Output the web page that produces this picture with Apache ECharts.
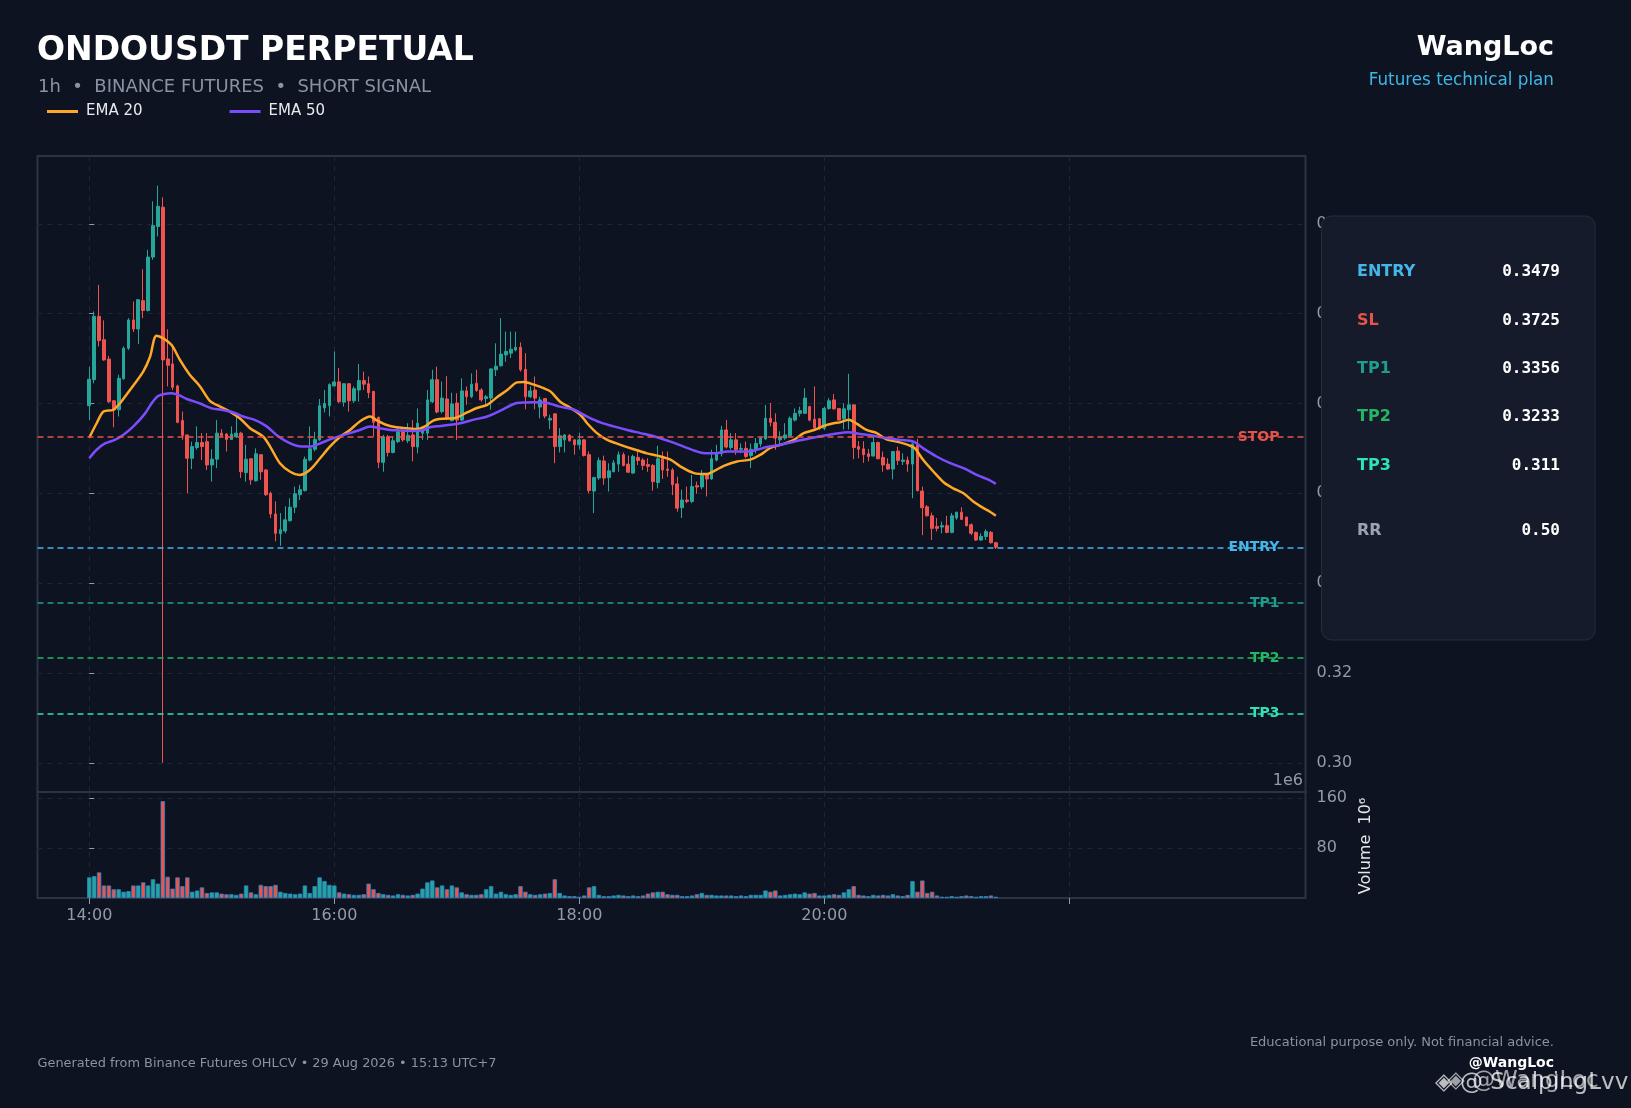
<!DOCTYPE html>
<html>
<head>
<meta charset="utf-8">
<title>ONDOUSDT PERPETUAL</title>
<script src="https://cdn.jsdelivr.net/npm/echarts@6.0.0/dist/echarts.min.js"></script>
<style>
  html, body { margin: 0; padding: 0; background: #0d1320; }
  #chart { width: 1631px; height: 1108px; }
</style>
</head>
<body>
<div id="chart"></div>
<script>
// candle index 0 = 14:00 bar, one step per candle
var opens = [0.3795,0.3853,0.3994,0.3942,0.3899,0.3806,0.3786,0.3855,0.3923,0.3986,
  0.3966,0.4029,0.4007,0.4126,0.4194,0.4237,0.3899,0.3888,0.3839,0.3762,
  0.3730,0.3678,0.3702,0.3713,0.3715,0.3663,0.3676,0.3734,0.3732,0.3720,
  0.3726,0.3734,0.3646,0.3677,0.3628,0.3686,0.3652,0.3600,0.3554,0.3510,
  0.3516,0.3539,0.3569,0.3597,0.3606,0.3674,0.3698,0.3719,0.3790,0.3795,
  0.3839,0.3848,0.3803,0.3844,0.3806,0.3830,0.3851,0.3844,0.3827,0.3769,
  0.3669,0.3726,0.3691,0.3715,0.3737,0.3717,0.3730,0.3703,0.3734,0.3734,
  0.3804,0.3853,0.3782,0.3810,0.3762,0.3801,0.3763,0.3828,0.3815,0.3845,
  0.3830,0.3811,0.3812,0.3875,0.3884,0.3908,0.3912,0.3919,0.3925,0.3876,
  0.3815,0.3830,0.3792,0.3811,0.3763,0.3777,0.3704,0.3719,0.3729,0.3719,
  0.3708,0.3719,0.3686,0.3605,0.3634,0.3672,0.3635,0.3648,0.3665,0.3686,
  0.3665,0.3645,0.3680,0.3674,0.3664,0.3662,0.3624,0.3677,0.3654,0.3652,
  0.3621,0.3568,0.3585,0.3582,0.3617,0.3614,0.3641,0.3632,0.3674,0.3688,
  0.3741,0.3702,0.3719,0.3698,0.3700,0.3684,0.3697,0.3710,0.3721,0.3767,
  0.3758,0.3719,0.3723,0.3728,0.3763,0.3778,0.3778,0.3793,0.3765,0.3766,
  0.3745,0.3789,0.3808,0.3789,0.3766,0.3786,0.3797,0.3704,0.3699,0.3688,
  0.3683,0.3713,0.3680,0.3665,0.3654,0.3694,0.3671,0.3674,0.3665,0.3708,
  0.3605,0.3570,0.3550,0.3526,0.3525,0.3528,0.3513,0.3545,0.3558,0.3547,
  0.3530,0.3513,0.3496,0.3504,0.3513,0.3490];
var closes = [0.3854,0.3994,0.3940,0.3897,0.3804,0.3786,0.3856,0.3923,0.3986,0.3966,
  0.4031,0.4007,0.4126,0.4196,0.4239,0.3897,0.3885,0.3836,0.3758,0.3729,
  0.3678,0.3704,0.3713,0.3704,0.3663,0.3676,0.3734,0.3728,0.3720,0.3732,
  0.3734,0.3648,0.3676,0.3630,0.3688,0.3648,0.3597,0.3554,0.3511,0.3519,
  0.3541,0.3569,0.3599,0.3608,0.3676,0.3699,0.3720,0.3795,0.3800,0.3842,
  0.3848,0.3804,0.3844,0.3806,0.3833,0.3851,0.3843,0.3824,0.3758,0.3669,
  0.3726,0.3691,0.3717,0.3737,0.3719,0.3729,0.3704,0.3756,0.3745,0.3808,
  0.3853,0.3781,0.3812,0.3767,0.3799,0.3763,0.3828,0.3815,0.3843,0.3829,
  0.3808,0.3815,0.3877,0.3883,0.3910,0.3916,0.3921,0.3925,0.3875,0.3815,
  0.3828,0.3812,0.3808,0.3772,0.3767,0.3704,0.3728,0.3730,0.3717,0.3708,
  0.3719,0.3684,0.3606,0.3635,0.3673,0.3634,0.3650,0.3668,0.3686,0.3662,
  0.3647,0.3682,0.3673,0.3662,0.3660,0.3626,0.3677,0.3652,0.3651,0.3619,
  0.3567,0.3585,0.3582,0.3615,0.3614,0.3641,0.3632,0.3677,0.3689,0.3741,
  0.3703,0.3719,0.3697,0.3700,0.3682,0.3698,0.3711,0.3723,0.3767,0.3758,
  0.3723,0.3725,0.3730,0.3767,0.3778,0.3784,0.3812,0.3763,0.3746,0.3745,
  0.3789,0.3806,0.3788,0.3763,0.3788,0.3797,0.3702,0.3698,0.3686,0.3682,
  0.3713,0.3677,0.3663,0.3654,0.3693,0.3673,0.3674,0.3665,0.3710,0.3606,
  0.3568,0.3550,0.3522,0.3522,0.3528,0.3513,0.3550,0.3558,0.3542,0.3528,
  0.3511,0.3496,0.3504,0.3515,0.3490,0.3480];
var lows = [0.3763,0.3845,0.3927,0.3895,0.3801,0.3747,0.3771,0.3853,0.3919,0.3959,
  0.3932,0.3990,0.4005,0.4120,0.4172,0.3000,0.3838,0.3830,0.3756,0.3719,
  0.3600,0.3654,0.3697,0.3674,0.3652,0.3626,0.3656,0.3726,0.3693,0.3719,
  0.3723,0.3634,0.3626,0.3619,0.3626,0.3630,0.3594,0.3545,0.3493,0.3483,
  0.3511,0.3537,0.3556,0.3585,0.3604,0.3671,0.3693,0.3717,0.3780,0.3771,
  0.3838,0.3801,0.3793,0.3782,0.3801,0.3804,0.3830,0.3812,0.3726,0.3656,
  0.3648,0.3682,0.3689,0.3712,0.3715,0.3712,0.3671,0.3689,0.3719,0.3719,
  0.3801,0.3778,0.3778,0.3763,0.3760,0.3719,0.3760,0.3797,0.3812,0.3826,
  0.3804,0.3797,0.3786,0.3861,0.3882,0.3893,0.3901,0.3916,0.3871,0.3787,
  0.3812,0.3787,0.3767,0.3767,0.3743,0.3667,0.3691,0.3691,0.3715,0.3686,
  0.3698,0.3682,0.3600,0.3556,0.3630,0.3619,0.3604,0.3647,0.3648,0.3660,
  0.3645,0.3644,0.3663,0.3652,0.3648,0.3606,0.3611,0.3632,0.3637,0.3596,
  0.3559,0.3545,0.3578,0.3578,0.3599,0.3609,0.3593,0.3630,0.3671,0.3682,
  0.3700,0.3697,0.3686,0.3689,0.3678,0.3656,0.3689,0.3704,0.3719,0.3749,
  0.3697,0.3704,0.3719,0.3726,0.3760,0.3771,0.3777,0.3760,0.3741,0.3741,
  0.3741,0.3786,0.3786,0.3762,0.3742,0.3742,0.3676,0.3678,0.3668,0.3671,
  0.3682,0.3676,0.3648,0.3652,0.3631,0.3663,0.3663,0.3648,0.3589,0.3604,
  0.3507,0.3548,0.3496,0.3515,0.3511,0.3511,0.3511,0.3541,0.3541,0.3526,
  0.3507,0.3494,0.3494,0.3496,0.3488,0.3476];
var highs = [0.3882,0.4005,0.4064,0.3985,0.3906,0.3808,0.3864,0.3927,0.3990,0.4027,
  0.4032,0.4099,0.4142,0.4250,0.4285,0.4259,0.3965,0.3930,0.3842,0.3782,
  0.3730,0.3715,0.3749,0.3734,0.3734,0.3698,0.3763,0.3743,0.3734,0.3749,
  0.3775,0.3737,0.3708,0.3677,0.3700,0.3686,0.3654,0.3604,0.3582,0.3556,
  0.3571,0.3589,0.3615,0.3619,0.3682,0.3749,0.3737,0.3810,0.3830,0.3845,
  0.3916,0.3879,0.3845,0.3845,0.3838,0.3888,0.3871,0.3860,0.3827,0.3771,
  0.3730,0.3730,0.3726,0.3749,0.3741,0.3756,0.3763,0.3789,0.3749,0.3830,
  0.3875,0.3882,0.3849,0.3861,0.3824,0.3823,0.3856,0.3838,0.3867,0.3875,
  0.3834,0.3819,0.3878,0.3934,0.3990,0.3960,0.3960,0.3960,0.3936,0.3912,
  0.3838,0.3860,0.3815,0.3812,0.3775,0.3778,0.3745,0.3732,0.3732,0.3720,
  0.3735,0.3720,0.3693,0.3637,0.3680,0.3684,0.3667,0.3674,0.3693,0.3691,
  0.3684,0.3686,0.3698,0.3678,0.3678,0.3665,0.3706,0.3693,0.3693,0.3656,
  0.3637,0.3608,0.3615,0.3641,0.3626,0.3652,0.3645,0.3697,0.3708,0.3750,
  0.3763,0.3734,0.3734,0.3711,0.3715,0.3711,0.3723,0.3726,0.3797,0.3801,
  0.3778,0.3738,0.3756,0.3771,0.3789,0.3793,0.3834,0.3795,0.3838,0.3767,
  0.3793,0.3812,0.3821,0.3789,0.3801,0.3866,0.3797,0.3716,0.3716,0.3699,
  0.3727,0.3715,0.3693,0.3678,0.3693,0.3704,0.3689,0.3682,0.3712,0.3721,
  0.3615,0.3574,0.3557,0.3545,0.3537,0.3550,0.3556,0.3559,0.3569,0.3548,
  0.3533,0.3515,0.3511,0.3520,0.3516,0.3492];
// volume in millions
var volumes = [33,35,41,20,20,14,14,10,11,20, 20,25,20,30,23,155,34,15,33,19,
  33,10,12,17,8,9,9,7,6,6, 5,7,20,9,6,21,19,19,21,10,
  8,7,6,7,20,8,19,33,27,21, 20,9,7,6,5,5,6,23,14,8,
  6,5,4,6,5,4,5,7,15,25, 28,17,20,14,20,17,9,6,5,5,
  6,14,19,7,10,6,5,6,19,10, 6,5,6,7,8,30,8,4,3,3,
  2,4,17,19,5,3,3,4,5,4, 3,4,3,4,7,9,10,10,6,5,
  5,3,3,4,6,8,5,5,4,4, 4,4,3,4,3,5,5,5,12,10,
  12,4,5,6,7,6,9,7,8,4, 4,5,6,5,9,14,19,5,4,3,
  5,4,5,4,6,4,3,5,27,10, 28,8,10,4,2,2,3,2,3,4,
  3,2,3,3,4,2];

// EMA readings [candle index, value]
var ema20Points = [[0,0.3724],[1.5,0.3756],[2.9,0.3782],[4.9,0.3786],[6.3,0.3801],[8.3,0.3830],
  [11,0.3871],[12.4,0.3904],[13.7,0.3951],[15.1,0.3945],[16.8,0.3930],[18.5,0.3897],
  [20.5,0.3864],[22.6,0.3838],[24.6,0.3806],[26.7,0.3793],[28.7,0.3782],[30.7,0.3767],
  [32.8,0.3745],[35.5,0.3726],[36.9,0.3704],[38.9,0.3667],[41,0.3648],[42.9,0.3641],
  [45,0.3652],[47.1,0.3678],[49.1,0.3704],[51.2,0.3726],[53.2,0.3741],[55.2,0.3760],
  [57.3,0.3771],[58.6,0.3763],[60.7,0.3752],[62.7,0.3747],[64.8,0.3745],[66.8,0.3743],
  [68.5,0.3749],[70.2,0.3762],[72.2,0.3766],[74.4,0.3767],[77.1,0.3780],[79.1,0.3790],
  [81.2,0.3797],[83.2,0.3814],[85.3,0.3830],[87.3,0.3847],[88.7,0.3848],[90.7,0.3842],
  [92.7,0.3834],[94.1,0.3827],[96.1,0.3804],[98.2,0.3790],[100.2,0.3775],[101.6,0.3756],
  [103.6,0.3734],[105.7,0.3719],[108.4,0.3708],[111.1,0.3698],[113.8,0.3689],[115.9,0.3684],
  [118.6,0.3675],[120.6,0.3660],[123.4,0.3645],[126.1,0.3643],[127.4,0.3649],[129.5,0.3661],
  [132.2,0.3671],[134.9,0.3675],[137,0.3686],[139,0.3701],[141.7,0.3710],[143.8,0.3719],
  [145.8,0.3734],[147.9,0.3741],[149.9,0.3750],[151.9,0.3756],[153.2,0.3758],[155,0.3764],
  [156.6,0.3755],[158.6,0.3741],[160.7,0.3734],[162.7,0.3720],[164.8,0.3715],[167.5,0.3706],
  [168.5,0.3700],[170.2,0.3674],[172.3,0.3648],[174.4,0.3624],[176.3,0.3611],[178.4,0.3600],
  [180.4,0.3582],[182.5,0.3567],[183.8,0.3559],[185,0.3550]];
var ema50Points = [[0,0.3678],[1.5,0.3697],[3.2,0.3711],[5.2,0.3719],[6.9,0.3730],[9,0.3749],
  [11.4,0.3778],[12.7,0.3800],[14.1,0.3817],[16.8,0.3823],[18.2,0.3819],[19.9,0.3810],
  [22.6,0.3800],[25,0.3789],[27,0.3786],[29.4,0.3780],[31.4,0.3771],[34.1,0.3762],
  [36.2,0.3749],[38.2,0.3730],[40.3,0.3715],[42.3,0.3706],[45,0.3704],[47.1,0.3711],
  [49.1,0.3720],[51.2,0.3728],[53.2,0.3734],[55.2,0.3741],[57.3,0.3749],[59.3,0.3745],
  [61.4,0.3741],[63.4,0.3740],[66.1,0.3739],[68.2,0.3741],[69.5,0.3747],[71.7,0.3750],
  [75.7,0.3756],[78.5,0.3764],[81.2,0.3771],[83.9,0.3784],[87.3,0.3801],[90.7,0.3803],
  [93.4,0.3801],[96.1,0.3793],[98.9,0.3786],[101.6,0.3771],[104.3,0.3758],[107,0.3749],
  [109.8,0.3741],[112.5,0.3734],[115.2,0.3727],[118.6,0.3715],[121.3,0.3704],[124.7,0.3691],
  [127.4,0.3689],[130.2,0.3693],[132.9,0.3693],[135.6,0.3695],[138.3,0.3703],[141,0.3708],
  [143.8,0.3715],[146.5,0.3721],[149.2,0.3727],[151.9,0.3732],[155,0.3736],[157.3,0.3732],
  [160,0.3728],[162.7,0.3723],[165.4,0.3719],[168.2,0.3715],[170.2,0.3700],[172.9,0.3682],
  [175.7,0.3667],[178.4,0.3656],[181.1,0.3641],[183.8,0.3629],[185,0.3621]];

var timeTicks = [0, 50, 100, 150, 200];
var timeLabels = ['14:00', '16:00', '18:00', '20:00', ''];
var priceTicks = [0.30, 0.32, 0.34, 0.36, 0.38, 0.40, 0.42];
var volumeTicks = [80, 160];

var levelNames = ['STOP', 'ENTRY', 'TP1', 'TP2', 'TP3'];
var levelPrices = [0.3725, 0.3479, 0.3356, 0.3233, 0.311];

var planLabels = ['ENTRY', 'SL', 'TP1', 'TP2', 'TP3', 'RR'];
var planValues = ['0.3479', '0.3725', '0.3356', '0.3233', '0.311', '0.50'];

// ---- styles ----
var BG = '#0d1320';
var UP = '#26a69a';
var DOWN = '#ef5350';
var GRID_LINE = '#1f2635';
var FRAME = '#2c3342';
var MUTED = '#939aa8';
var FONT = '"DejaVu Sans", sans-serif';
var levelColors = ['#e5534b', '#45b6ea', '#1f9e8e', '#24b765', '#2ee3b5'];
var planColors = ['#45b6ea', '#e5534b', '#1f9e8e', '#24b765', '#2ee3b5', '#9ca3af'];
var planRowY = [271.5, 320.5, 368.5, 417, 466, 530.5];

var chart = echarts.init(document.getElementById('chart'), null, { width: 1631, height: 1108 });

var candleData = opens.map(function (o, i) {
  return [i, o, closes[i], lows[i], highs[i]];
});
var volumeData = volumes.map(function (v, i) {
  return { value: [i, v], itemStyle: { color: closes[i] >= opens[i] ? UP : DOWN } };
});
var levelLines = levelNames.map(function (n, k) {
  return {
    name: n,
    yAxis: levelPrices[k],
    lineStyle: { color: levelColors[k] },
    label: { formatter: n, color: levelColors[k] }
  };
});

function txt(x, y, text, font, fill, align, extra) {
  var el = {
    type: 'text', x: x, y: y, z: 100,
    style: {
      text: text, font: font, fill: fill,
      align: align, textAlign: align,
      verticalAlign: 'middle', textVerticalAlign: 'middle'
    }
  };
  if (extra) { for (var k in extra) { el[k] = extra[k]; } }
  return el;
}

var graphics = [
  txt(37, 51, 'ONDOUSDT PERPETUAL', 'bold 33px ' + FONT, '#ffffff', 'left'),
  txt(38, 87, '1h  \u2022  BINANCE FUTURES  \u2022  SHORT SIGNAL', '18px ' + FONT, '#8a93a3', 'left'),
  txt(1554, 48, 'WangLoc', 'bold 27px ' + FONT, '#ffffff', 'right'),
  txt(1554, 81, 'Futures technical plan', '16.8px ' + FONT, '#3fb6e6', 'right'),
  txt(1303, 781, '1e6', '16px ' + FONT, MUTED, 'right'),
  txt(1366, 846, 'Volume  10\u2076', '16px ' + FONT, '#e4e6ea', 'center', { rotation: Math.PI / 2 }),
  txt(37.5, 1064, 'Generated from Binance Futures OHLCV \u2022 29 Aug 2026 \u2022 15:13 UTC+7', '12.9px ' + FONT, '#8a93a3', 'left'),
  txt(1554, 1043, 'Educational purpose only. Not financial advice.', '13px ' + FONT, '#8a93a3', 'right'),
  txt(1554, 1063, '@WangLoc', 'bold 14px ' + FONT, '#ffffff', 'right'),
  txt(1435, 1083, '\u25C8 @ ScalpingLvv', '23px ' + FONT, 'rgba(255,255,255,0.72)', 'left'),
  txt(1447, 1081, '\u25C8 @WangLoc', '23px ' + FONT, 'rgba(255,255,255,0.6)', 'left'),
  {
    type: 'rect', z: 100,
    shape: { x: 1321.5, y: 216, width: 273.5, height: 424, r: 10 },
    style: { fill: '#151b2a', stroke: '#262d3c', lineWidth: 1 }
  }
];
planLabels.forEach(function (lab, k) {
  graphics.push(txt(1357, planRowY[k], lab, 'bold 16px ' + FONT, planColors[k], 'left', { z: 101 }));
  graphics.push(txt(1560, planRowY[k], planValues[k], 'bold 16px "DejaVu Sans Mono", monospace', '#ffffff', 'right', { z: 101 }));
});

var option = {
  backgroundColor: BG,
  animation: false,
  textStyle: { fontFamily: FONT },
  legend: {
    data: ['EMA 20', 'EMA 50'],
    left: 42, top: 99,
    icon: 'rect', itemWidth: 31, itemHeight: 3, itemGap: 87,
    textStyle: { color: '#e8e9ec', fontSize: 15, padding: [0, 0, 0, 3] }
  },
  grid: [
    { left: 37.5, top: 156, width: 1268, height: 636, show: true, borderColor: FRAME, borderWidth: 2, backgroundColor: 'transparent', outerBoundsMode: 'none' },
    { left: 37.5, top: 792, width: 1268, height: 106, show: true, borderColor: FRAME, borderWidth: 2, backgroundColor: 'transparent', outerBoundsMode: 'none' }
  ],
  xAxis: [
    {
      type: 'value', gridIndex: 0, min: -10.57, max: 248.2,
      axisLine: { show: false },
      axisTick: { show: false, customValues: timeTicks },
      axisLabel: { show: false, customValues: timeTicks },
      splitLine: { show: true, lineStyle: { color: GRID_LINE, type: [5, 5], width: 1 } }
    },
    {
      type: 'value', gridIndex: 1, min: -10.57, max: 248.2,
      axisLine: { show: false },
      axisTick: { show: true, length: 6, customValues: timeTicks, lineStyle: { color: MUTED } },
      axisLabel: {
        show: true, customValues: timeTicks, color: MUTED, fontSize: 16, margin: 10,
        formatter: function (v) { var k = timeTicks.indexOf(v); return k >= 0 ? timeLabels[k] : ''; }
      },
      splitLine: { show: true, lineStyle: { color: GRID_LINE, type: [5, 5], width: 1 } }
    }
  ],
  yAxis: [
    {
      type: 'value', gridIndex: 0, position: 'right', min: 0.2935, max: 0.4351,
      axisLine: { show: false },
      axisTick: { show: true, length: 5, customValues: priceTicks, lineStyle: { color: MUTED } },
      axisLabel: {
        customValues: priceTicks, color: MUTED, fontSize: 16, margin: 11,
        formatter: function (v) { return v.toFixed(2); }
      },
      splitLine: { show: true, lineStyle: { color: GRID_LINE, type: [5, 5], width: 1 } }
    },
    {
      type: 'value', gridIndex: 1, position: 'right', min: 0, max: 169.6,
      axisLine: { show: false },
      axisTick: { show: true, length: 5, customValues: volumeTicks, lineStyle: { color: MUTED } },
      axisLabel: { customValues: volumeTicks, color: MUTED, fontSize: 16, margin: 11 },
      splitLine: { show: true, lineStyle: { color: GRID_LINE, type: [5, 5], width: 1 } }
    }
  ],
  series: [
    {
      name: 'OHLC', type: 'candlestick', xAxisIndex: 0, yAxisIndex: 0,
      dimensions: ['idx', 'open', 'close', 'lowest', 'highest'],
      encode: { x: 0, y: [1, 2, 3, 4] },
      data: candleData,
      barWidth: 3.2,
      itemStyle: { color: UP, color0: DOWN, borderColor: UP, borderColor0: DOWN, borderWidth: 1 },
      markLine: {
        silent: true,
        precision: 4,
        symbol: ['none', 'none'],
        lineStyle: { type: [6, 4], width: 1.6 },
        label: { position: 'insideEnd', distance: [26, 0], fontWeight: 'bold', fontSize: 14, fontFamily: FONT },
        data: levelLines
      }
    },
    {
      name: 'EMA 20', type: 'line', xAxisIndex: 0, yAxisIndex: 0,
      data: ema20Points, showSymbol: false, smooth: 0.3,
      color: '#ffa726', lineStyle: { width: 2.5, color: '#ffa726' }, z: 3
    },
    {
      name: 'EMA 50', type: 'line', xAxisIndex: 0, yAxisIndex: 0,
      data: ema50Points, showSymbol: false, smooth: 0.3,
      color: '#7c4dff', lineStyle: { width: 2.5, color: '#7c4dff' }, z: 3
    },
    {
      name: 'Volume', type: 'bar', xAxisIndex: 1, yAxisIndex: 1,
      data: volumeData, barWidth: 4.4,
      itemStyle: { borderColor: '#2b86c5', borderWidth: 0.8 }
    }
  ],
  graphic: graphics
};

chart.setOption(option);
</script>
</body>
</html>
